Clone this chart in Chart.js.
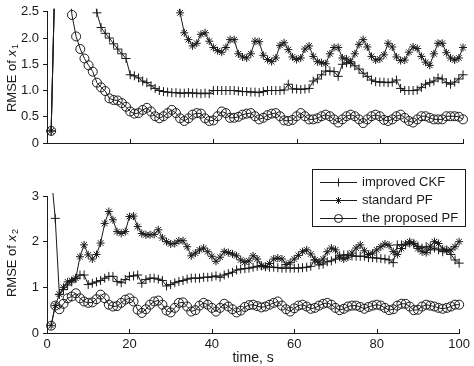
<!DOCTYPE html>
<html>
<head>
<meta charset="utf-8">
<script src="https://cdn.jsdelivr.net/npm/chart.js@4.4.0/dist/chart.umd.min.js"></script>
<style>
  html, body { margin: 0; padding: 0; background: #fff; }
  #wrap { position: relative; width: 474px; height: 366px; }
  canvas { position: absolute; left: 0; top: 0; }
</style>
</head>
<body>
<div id="wrap">
  <canvas id="graficoX2" width="474" height="366"></canvas>
  <canvas id="graficoX1" width="474" height="366"></canvas>
</div>
<script>
// tiempo (s)
const tiempo = [1, 2, 3, 4, 5, 6, 7, 8, 9, 10, 11, 12, 13, 14, 15, 16, 17, 18, 19, 20,
  21, 22, 23, 24, 25, 26, 27, 28, 29, 30, 31, 32, 33, 34, 35, 36, 37, 38, 39, 40,
  41, 42, 43, 44, 45, 46, 47, 48, 49, 50, 51, 52, 53, 54, 55, 56, 57, 58, 59, 60,
  61, 62, 63, 64, 65, 66, 67, 68, 69, 70, 71, 72, 73, 74, 75, 76, 77, 78, 79, 80,
  81, 82, 83, 84, 85, 86, 87, 88, 89, 90, 91, 92, 93, 94, 95, 96, 97, 98, 99, 100];

// RMSE de x1
const ckfX1 = [0.23, 3.5, 3.6, 3.7, 3.6, 3.5, 3.4, 3.3, 3.2, 3.1,
  3.0, 2.48, 2.2, 2.09, 2.0, 1.89, 1.79, 1.70, 1.61, 1.30,
  1.28, 1.24, 1.18, 1.15, 1.09, 1.04, 1.0, 0.98, 0.97, 0.96,
  0.96, 0.95, 0.95, 0.96, 0.95, 0.95, 0.94, 0.95, 0.94, 1.0,
  1.0, 1.0, 1.0, 1.0, 1.0, 0.99, 0.98, 0.98, 0.97, 0.97,
  0.96, 0.98, 1.0, 1.0, 1.0, 1.0, 1.01, 1.12, 1.03, 1.03,
  1.02, 1.03, 1.04, 1.18, 1.22, 1.3, 1.37, 1.37, 1.36, 1.27,
  1.5, 1.53, 1.52, 1.47, 1.41, 1.33, 1.27, 1.2, 1.17, 1.16,
  1.16, 1.15, 1.16, 1.2, 1.04, 1.0, 1.0, 1.0, 1.01, 1.06,
  1.12, 1.15, 1.18, 1.24, 1.22, 1.15, 1.12, 1.16, 1.22, 1.3];
const pfX1 = [0.23, 3.5, 3.6, 3.8, 3.9, 4.0, 3.9, 3.8, 3.8, 3.7,
  3.6, 3.6, 3.5, 3.5, 3.4, 3.4, 3.3, 3.3, 3.2, 3.3,
  3.2, 3.1, 3.2, 3.1, 3.0, 3.1, 3.0, 3.0, 3.1, 3.0,
  2.9, 2.48, 2.1, 1.97, 1.85, 1.9, 2.07, 2.1, 1.94, 1.82,
  1.76, 1.73, 1.82, 1.97, 1.97, 1.7, 1.64, 1.62, 1.7, 1.94,
  1.93, 1.67, 1.59, 1.55, 1.62, 1.86, 1.91, 1.78, 1.64, 1.59,
  1.62, 1.79, 1.85, 1.65, 1.55, 1.53, 1.51, 1.7, 1.82, 1.82,
  1.62, 1.6, 1.55, 1.7, 1.88, 1.97, 1.83, 1.65, 1.58, 1.6,
  1.68, 1.9, 1.83, 1.64, 1.57, 1.58, 1.73, 1.83, 1.8, 1.65,
  1.54, 1.48, 1.7, 1.9, 1.9, 1.72, 1.62, 1.58, 1.62, 1.82];
const propX1 = [0.23, 3.5, 3.4, 3.3, 3.2, 2.44, 2.03, 1.79, 1.61, 1.48,
  1.36, 1.15, 1.06, 0.99, 0.85, 0.82, 0.81, 0.76, 0.69, 0.6,
  0.56, 0.57, 0.63, 0.67, 0.6, 0.51, 0.47, 0.51, 0.57, 0.63,
  0.57, 0.47, 0.42, 0.47, 0.54, 0.57, 0.56, 0.47, 0.42, 0.43,
  0.51, 0.6, 0.57, 0.48, 0.48, 0.5, 0.54, 0.56, 0.57, 0.51,
  0.45, 0.48, 0.53, 0.56, 0.57, 0.51, 0.43, 0.42, 0.44, 0.51,
  0.57, 0.51, 0.45, 0.45, 0.47, 0.51, 0.54, 0.51, 0.45, 0.39,
  0.45, 0.51, 0.54, 0.51, 0.45, 0.38, 0.45, 0.51, 0.54, 0.51,
  0.44, 0.42, 0.45, 0.51, 0.54, 0.48, 0.42, 0.39, 0.45, 0.51,
  0.51, 0.48, 0.45, 0.45, 0.45, 0.51, 0.51, 0.51, 0.5, 0.45];

// RMSE de x2
const ckfX2 = [3.5, 2.51, 0.84, 0.95, 1.05, 1.12, 1.2, 1.27, 1.27, 1.06,
  1.09, 1.12, 1.15, 1.2, 1.24, 1.24, 1.13, 1.1, 1.17, 1.24,
  1.25, 1.27, 1.09, 1.17, 1.2, 1.2, 1.18, 1.15, 1.03, 1.06,
  1.1, 1.13, 1.15, 1.18, 1.2, 1.2, 1.2, 1.22, 1.22, 1.23,
  1.25, 1.22, 1.27, 1.3, 1.33, 1.38, 1.4, 1.41, 1.42, 1.44,
  1.46, 1.47, 1.45, 1.44, 1.44, 1.43, 1.42, 1.42, 1.42, 1.42,
  1.42, 1.43, 1.44, 1.46, 1.6, 1.49, 1.51, 1.56, 1.58, 1.62,
  1.69, 1.71, 1.71, 1.69, 1.68, 1.68, 1.68, 1.65, 1.65, 1.64,
  1.63, 1.62, 1.6, 1.54, 1.93, 1.93, 1.93, 1.97, 1.95, 1.9,
  1.86, 1.89, 1.82, 1.86, 1.82, 1.78, 1.82, 1.72, 1.6, 1.53];
const pfX2 = [0.16, 0.6, 0.85, 1.0, 1.12, 1.15, 1.2, 1.67, 1.93, 1.71,
  1.62, 1.72, 1.97, 2.4, 2.66, 2.48, 2.22, 2.18, 2.22, 2.55,
  2.56, 2.33, 2.18, 2.15, 2.15, 2.16, 2.26, 2.08, 2.0, 1.95,
  1.96, 2.02, 2.02, 1.89, 1.69, 1.75, 1.82, 1.86, 1.78, 1.68,
  1.57, 1.66, 1.78, 1.76, 1.73, 1.69, 1.6, 1.55, 1.58, 1.69,
  1.62, 1.48, 1.45, 1.52, 1.62, 1.64, 1.62, 1.5, 1.54, 1.62,
  1.7, 1.78, 1.82, 1.73, 1.6, 1.55, 1.62, 1.78, 1.86, 1.82,
  1.66, 1.62, 1.66, 1.75, 1.86, 1.93, 1.8, 1.72, 1.75, 1.82,
  1.89, 1.95, 1.92, 1.78, 1.72, 1.85, 1.95, 2.0, 1.96, 1.85,
  1.78, 1.76, 1.9, 2.0, 1.96, 1.84, 1.8, 1.82, 1.89, 2.0];
const propX2 = [0.16, 0.6, 0.52, 0.64, 0.76, 0.8, 0.87, 0.76, 0.69, 0.66,
  0.67, 0.74, 0.84, 0.76, 0.62, 0.58, 0.59, 0.66, 0.73, 0.76,
  0.69, 0.51, 0.44, 0.52, 0.62, 0.69, 0.71, 0.62, 0.49, 0.45,
  0.55, 0.66, 0.67, 0.58, 0.47, 0.5, 0.6, 0.66, 0.62, 0.55,
  0.47, 0.55, 0.64, 0.58, 0.52, 0.45, 0.49, 0.57, 0.61, 0.62,
  0.59, 0.56, 0.58, 0.62, 0.66, 0.69, 0.6, 0.52, 0.47, 0.54,
  0.6, 0.62, 0.58, 0.53, 0.55, 0.6, 0.64, 0.66, 0.62, 0.55,
  0.5, 0.53, 0.58, 0.6, 0.6, 0.57, 0.53, 0.57, 0.6, 0.62,
  0.6, 0.55, 0.5, 0.52, 0.6, 0.64, 0.64, 0.58, 0.5, 0.51,
  0.58, 0.62, 0.6, 0.58, 0.55, 0.53, 0.55, 0.58, 0.62, 0.62];

// ticks
const ticksX = [0, 20, 40, 60, 80, 100];
const etiquetasX = ['0', '20', '40', '60', '80', '100'];
const ticksY1 = [0, 0.5, 1, 1.5, 2, 2.5];
const etiquetasY1 = ['0', '0.5', '1.0', '1.5', '2.0', '2.5'];
const ticksY2 = [0, 1, 2, 3];
const etiquetasY2 = ['0', '1', '2', '3'];

const nombres = ['improved CKF', 'standard PF', 'the proposed PF'];
const estilos = ['cross', 'star', 'circle'];
const radios = [4.5, 4, 4.5];

const NEGRO = '#1a1a1a';
const FUENTE = "'Liberation Sans', Arial, sans-serif";

function puntos(valores) {
  return tiempo.map((t, i) => ({ x: t, y: valores[i] }));
}

function crearDatasets(series) {
  return series.map((s, i) => ({
    label: nombres[i],
    data: puntos(s),
    borderColor: NEGRO,
    borderWidth: 1,
    pointStyle: estilos[i],
    pointRadius: radios[i],
    pointBorderColor: NEGRO,
    pointBorderWidth: 1,
    pointBackgroundColor: 'rgba(0,0,0,0)',
    tension: 0,
    clip: { left: 6, top: 3, right: 6, bottom: 6 }
  }));
}

// marcas del eje x hacia dentro
const marcasX = {
  id: 'marcasX',
  afterDraw(chart) {
    const x = chart.scales.x;
    const ctx = chart.ctx;
    const base = chart.chartArea.bottom;
    ctx.save();
    ctx.strokeStyle = NEGRO;
    ctx.lineWidth = 1;
    x.ticks.forEach(t => {
      const px = Math.round(x.getPixelForValue(t.value)) + 0.5;
      ctx.beginPath();
      ctx.moveTo(px, base);
      ctx.lineTo(px, base - 4);
      ctx.stroke();
    });
    ctx.restore();
  }
};

// titulo del eje y: "RMSE of x" con subindice
function tituloY(sub, cx, cy) {
  return {
    id: 'tituloY' + sub,
    afterDraw(chart) {
      const ctx = chart.ctx;
      ctx.save();
      ctx.translate(cx, cy);
      ctx.rotate(-Math.PI / 2);
      ctx.fillStyle = NEGRO;
      ctx.textBaseline = 'middle';
      ctx.font = '13px ' + FUENTE;
      const w1 = ctx.measureText('RMSE of ').width;
      ctx.font = 'italic 13px ' + FUENTE;
      const w2 = ctx.measureText('x').width;
      ctx.font = '9px ' + FUENTE;
      const w3 = ctx.measureText(sub).width;
      let x0 = -(w1 + w2 + w3 + 1) / 2;
      ctx.font = '13px ' + FUENTE;
      ctx.fillText('RMSE of ', x0, 0);
      ctx.font = 'italic 13px ' + FUENTE;
      ctx.fillText('x', x0 + w1, 0);
      ctx.font = '9px ' + FUENTE;
      ctx.fillText(sub, x0 + w1 + w2 + 1, 4);
      ctx.restore();
    }
  };
}

// leyenda dentro del grafico inferior
const leyenda = {
  id: 'leyenda',
  afterDraw(chart) {
    const ctx = chart.ctx;
    ctx.save();
    ctx.fillStyle = '#fff';
    ctx.fillRect(312.5, 169.5, 153, 57);
    ctx.strokeStyle = NEGRO;
    ctx.lineWidth = 1;
    ctx.strokeRect(312.5, 169.5, 153, 57);
    nombres.forEach((nombre, i) => {
      const y = 182.5 + i * 18;
      ctx.strokeStyle = NEGRO;
      ctx.beginPath();
      ctx.moveTo(320, y);
      ctx.lineTo(357, y);
      ctx.stroke();
      ctx.fillStyle = 'rgba(0,0,0,0)';
      Chart.helpers.drawPoint(ctx, { pointStyle: estilos[i], radius: radios[i] - 0.5, borderWidth: 1, rotation: 0 }, 338.5, y);
      ctx.fillStyle = NEGRO;
      ctx.font = '13px ' + FUENTE;
      ctx.textBaseline = 'middle';
      ctx.fillText(nombre, 362, y);
    });
    ctx.restore();
  }
};

function opciones(ticksY, etiquetasY, maxY, padding, mostrarX) {
  return {
    responsive: false,
    animation: false,
    layout: { padding: padding },
    plugins: { legend: { display: false }, tooltip: { enabled: false } },
    scales: {
      x: {
        type: 'linear',
        min: 0,
        max: 100,
        afterBuildTicks: s => { s.ticks = ticksX.map(v => ({ value: v })); },
        afterFit: s => { s.height = mostrarX ? 33 : 0; },
        grid: { display: true, drawOnChartArea: false, drawTicks: false },
        border: { display: true, color: NEGRO, width: 1 },
        ticks: {
          display: mostrarX,
          padding: 4,
          maxRotation: 0,
          color: NEGRO,
          font: { family: FUENTE, size: 13 },
          callback: (v, i) => etiquetasX[i]
        },
        title: {
          display: mostrarX,
          text: 'time, s',
          color: NEGRO,
          padding: { top: 0, bottom: -1 },
          font: { family: FUENTE, size: 14 }
        }
      },
      y: {
        min: 0,
        max: maxY,
        afterBuildTicks: s => { s.ticks = ticksY.map(v => ({ value: v })); },
        afterFit: s => { s.width = 47; },
        grid: { display: true, drawOnChartArea: false, drawTicks: true, tickLength: 4, color: NEGRO },
        border: { display: true, color: NEGRO, width: 1 },
        ticks: {
          padding: 4,
          color: NEGRO,
          font: { family: FUENTE, size: 13 },
          callback: (v, i) => etiquetasY[i]
        }
      }
    }
  };
}

new Chart(document.getElementById('graficoX2'), {
  type: 'line',
  data: { datasets: crearDatasets([ckfX2, pfX2, propX2]) },
  options: opciones(ticksY2, etiquetasY2, 3, { top: 196, right: 11, bottom: 0, left: 0 }, true),
  plugins: [marcasX, tituloY('2', 12, 263), leyenda]
});

new Chart(document.getElementById('graficoX1'), {
  type: 'line',
  data: { datasets: crearDatasets([ckfX1, pfX1, propX1]) },
  options: opciones(ticksY1, etiquetasY1, 2.5, { top: 6, right: 11, bottom: 223, left: 0 }, false),
  plugins: [marcasX, tituloY('1', 12, 78)]
});
</script>
</body>
</html>
